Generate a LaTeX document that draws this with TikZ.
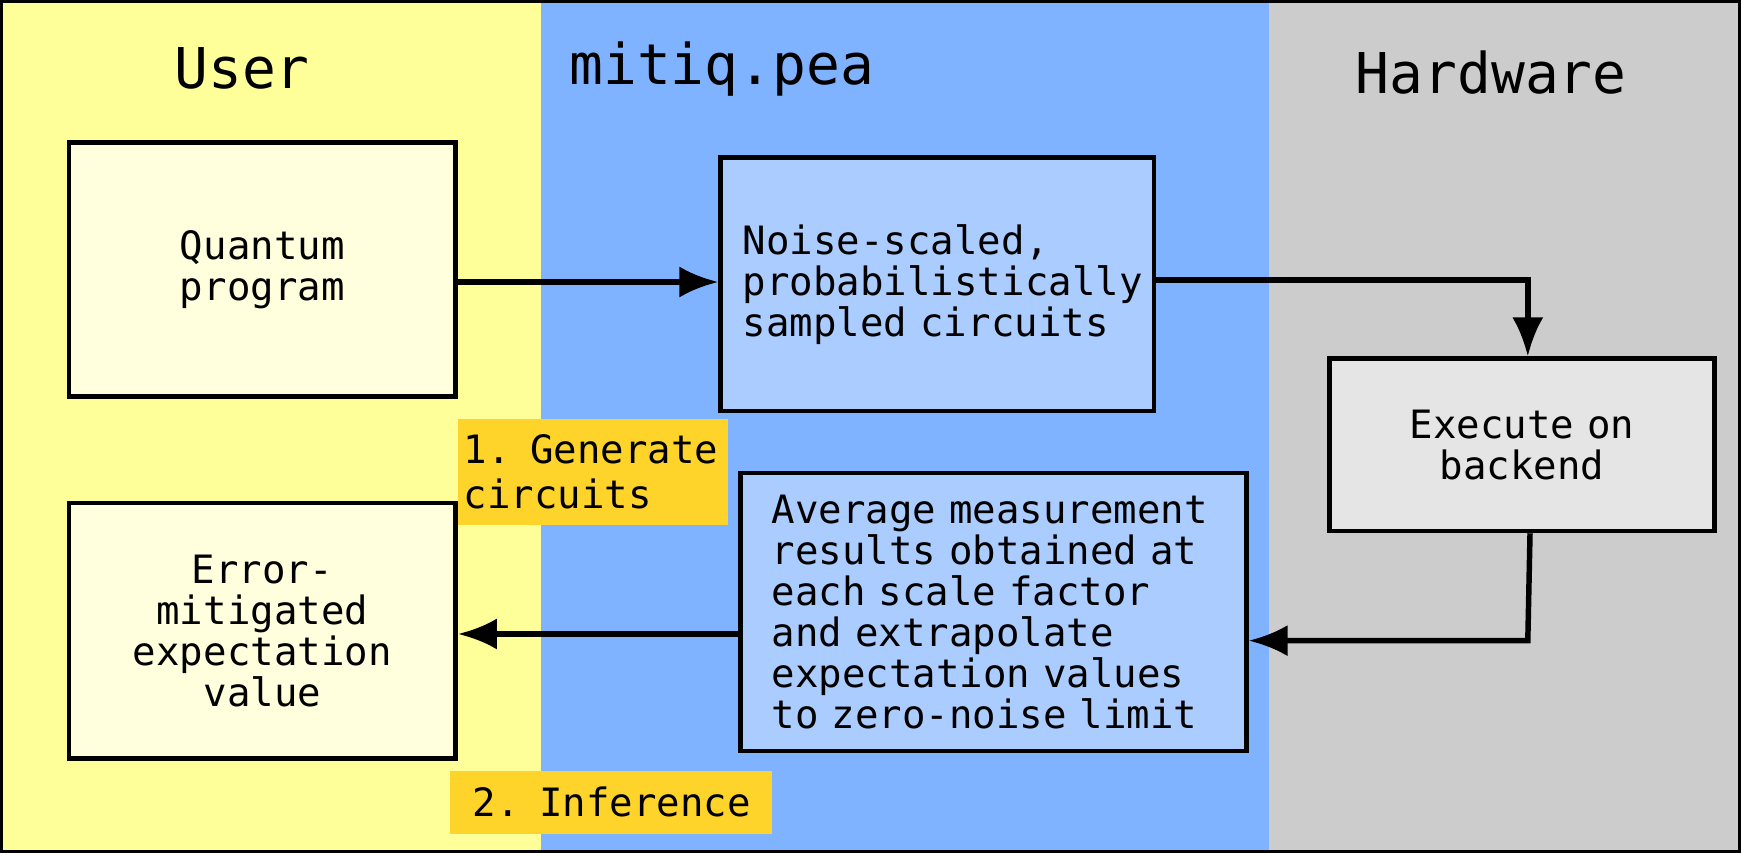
\documentclass[tikz,border=0pt]{standalone}
\usepackage{fontspec}
\setmonofont{DejaVu Sans Mono}
\usetikzlibrary{arrows.meta}
\begin{document}
\begin{tikzpicture}[x=0.01cm,y=-0.01cm,
 box/.style={draw,line width=1.2pt,font=\ttfamily\fontsize{10}{10.5}\selectfont,align=center,anchor=north west,inner sep=0pt},
 lab/.style={fill=lbl,font=\ttfamily\fontsize{10}{11.5}\selectfont,align=left,anchor=north west,inner sep=0pt},
 ttl/.style={font=\ttfamily\fontsize{14.4}{16}\selectfont},
 arr/.style={line width=1.4pt,-{Latex[length=10pt,width=8pt]}}]
\definecolor{lbl}{HTML}{FFD42A}
\definecolor{ybg}{HTML}{FFFF99}
\useasboundingbox (0,0) rectangle (1568,768);
\fill[ybg] (0,0) rectangle (487,768);
\fill[fill={rgb,255:red,128;green,179;blue,255}] (487,0) rectangle (1143,768);
\fill[gray!40] (1143,0) rectangle (1568,768);
\draw[line width=1.3pt] (0,0) rectangle (1568,768);
\node[ttl] (t1) at (218,62) {User};
\node[ttl] (t2) at (650,62) {mitiq.pea};
\node[ttl] (t3) at (1343,65) {Hardware};
\node[box,fill={rgb,255:red,255;green,255;blue,221},text width=3.48cm,minimum height=2.29cm] (q) at (60,126) {Quantum\\program};
\node[box,fill={rgb,255:red,170;green,204;blue,255},text width=3.9cm,minimum height=2.28cm,align=left] (n) at (647,140) {\hspace*{0.2cm}Noise-scaled,\\\hspace*{0.2cm}probabilistically\\\hspace*{0.2cm}sampled circuits};
\node[box,fill=gray!20,text width=3.47cm,minimum height=1.55cm] (e) at (1195,321) {Execute on\\backend};
\node[box,fill={rgb,255:red,170;green,204;blue,255},text width=4.55cm,minimum height=2.5cm,align=left] (a) at (665,424) {\hspace*{0.28cm}Average measurement\\\hspace*{0.28cm}results obtained at\\\hspace*{0.28cm}each scale factor\\\hspace*{0.28cm}and extrapolate\\\hspace*{0.28cm}expectation values\\\hspace*{0.28cm}to zero-noise limit};
\node[box,fill={rgb,255:red,255;green,255;blue,221},text width=3.48cm,minimum height=2.3cm] (r) at (60,451) {Error-\\mitigated\\expectation\\value};
\node[lab,text width=2.43cm,minimum height=0.95cm] (l1) at (412,377) {\hspace*{0.05cm}1. Generate\\\hspace*{0.05cm}circuits};
\node[lab,text width=2.89cm,minimum height=0.56cm] (l2) at (405,694) {\hspace*{0.2cm}2. Inference};
\draw[arr] (q.east|-0,254) -- (n.west|-0,254);
\coordinate (c1) at (1376,252);
\draw[arr] (n.east|-0,252) -- (c1) -- (e.north-|c1);
\coordinate (c2) at (1376,577);
\draw[arr] (e.south-|1378,0) -- (c2) -- (a.east|-c2);
\draw[arr] (a.west|-0,571) -- (r.east|-0,571);
\end{tikzpicture}
\end{document}
